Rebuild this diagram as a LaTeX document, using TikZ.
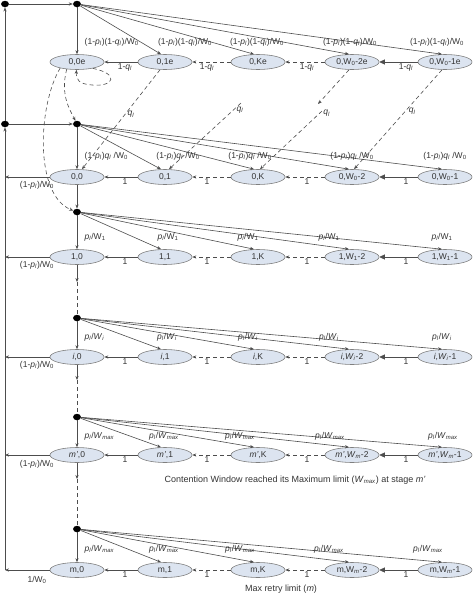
\documentclass[tikz,border=0pt]{standalone}
\usepackage{fontspec}
\setmainfont{Liberation Sans}
\usetikzlibrary{arrows.meta,shapes.geometric}
\definecolor{nfill}{HTML}{DCE4F0}
\definecolor{ndraw}{HTML}{7F7F7F}
\definecolor{lgray}{HTML}{4D4D4D}
\definecolor{tgray}{HTML}{333333}
\newcommand{\mypl}{\textit{p}\textsubscript{\textit{l}}}
\newcommand{\myql}{\textit{q}\textsubscript{\textit{l}}}
% row of five states
\newcommand{\mkrow}[7]{%
  \node[st] (#10) at (77,#2) {#3};
  \node[st] (#11) at (165,#2) {#4};
  \node[st] (#1K) at (258,#2) {#5};
  \node[st] (#12) at (352,#2) {#6};
  \node[st] (#13) at (445,#2) {#7};
}
% fan from junction dot and horizontal chain
\newcommand{\mkfan}[2]{%
  \draw[arr] (#2) -- (#10);
  \draw[arr] (#2) -- ([xshift=-4pt]#11.north);
  \draw[arr] (#2) -- ([xshift=-4pt]#1K.north);
  \draw[arr] (#2) -- ([xshift=-3pt]#12.north);
  \draw[arr] (#2) -- ([xshift=-3pt]#13.north);
  \draw[arr] (#11) -- (#10);
  \draw[arr,dsh] (#1K) -- (#11);
  \draw[arr,dsh] (#12) -- (#1K);
  \draw[bigarr] (#13) -- (#12);
}
% labels under the horizontal arrows
\newcommand{\mkhlab}[2]{%
  \node[lab] at (125,#1+5) {#2};
  \node[lab] at (207,#1+5) {#2};
  \node[lab] at (307,#1+5) {#2};
  \node[lab] at (406,#1+5) {#2};
}
% labels of the fan
\newcommand{\mkflab}[6]{%
  \node[lab,anchor=west] at (84,#1) {#2};
  \node[lab] at (#3,#1) {#2};
  \node[lab] at (#4,#1) {#2};
  \node[lab] at (#5,#1) {#2};
  \node[lab] at (#6,#1) {#2};
}
% arrow to the left return line
\newcommand{\mkleft}[4]{%
  \coordinate (#1L) at (5,#2);
  \draw[arr] (#10) -- (#1L);
  \node[lab] at (37,#3) {#4};
}
\begin{document}
\begin{tikzpicture}[x=1pt,y=-1pt,
  st/.style={ellipse,draw=ndraw,fill=nfill,line width=0.6pt,minimum width=54pt,minimum height=15pt,inner sep=0pt,font=\fontsize{8.5}{9}\selectfont,text=tgray},
  jdot/.style={ellipse,fill=black,minimum width=8pt,minimum height=6.5pt,inner sep=0pt},
  ln/.style={draw=lgray,line width=0.6pt},
  arr/.style={ln,-{Stealth[length=4pt,width=3.2pt]}},
  bigarr/.style={ln,-{Triangle[length=5.5pt,width=5pt]}},
  dsh/.style={dash pattern=on 4pt off 3pt},
  lab/.style={font=\fontsize{8.5}{9}\selectfont,text=tgray,inner sep=0.5pt},
  note/.style={font=\fontsize{9}{10}\selectfont,text=tgray,inner sep=0pt},
]
\useasboundingbox (0,0) rectangle (474,595);

% junction dots
\node[jdot] (le) at (5,4) {};
\node[jdot] (la) at (5,124) {};
\node[jdot] (je) at (77,4) {};
\node[jdot] (ja) at (77,124) {};
\node[jdot] (jb) at (77,212) {};
\node[jdot] (jc) at (77,318) {};
\node[jdot] (jd) at (77,417) {};
\node[jdot] (jf) at (77,529) {};

% states
\mkrow{e}{62}{0,0e}{0,1e}{0,Ke}{0,W\textsubscript{0}-2e}{0,W\textsubscript{0}-1e}
\mkrow{a}{177}{0,0}{0,1}{0,K}{0,W\textsubscript{0}-2}{0,W\textsubscript{0}-1}
\mkrow{b}{257}{1,0}{1,1}{1,K}{1,W\textsubscript{1}-2}{1,W\textsubscript{1}-1}
\mkrow{c}{357}{\textit{i},0}{\textit{i},1}{\textit{i},K}{\textit{i},\textit{W}\textsubscript{\textit{i}}-2}{\textit{i},\textit{W}\textsubscript{\textit{i}}-1}
\mkrow{d}{455}{\textit{m'},0}{\textit{m'},1}{\textit{m'},K}{\textit{m'},\textit{W}\textsubscript{\textit{m}}-2}{\textit{m'},\textit{W}\textsubscript{\textit{m}}-1}
\mkrow{f}{570}{m,0}{m,1}{m,K}{m,W\textsubscript{\textit{m}}-2}{m,W\textsubscript{\textit{m}}-1}

% fans and chains
\mkfan{e}{je}
\mkfan{a}{ja}
\mkfan{b}{jb}
\mkfan{c}{jc}
\mkfan{d}{jd}
\mkfan{f}{jf}

% fan labels
\mkflab{42}{(1-\mypl)(1-\myql)/W\textsubscript{0}}{185}{257}{350}{437}
\mkflab{156}{(1-\mypl)\myql{} /W\textsubscript{0}}{178}{250}{352}{445}
\mkflab{237}{\mypl/W\textsubscript{1}}{168}{248}{329}{442}
\mkflab{337}{\mypl/\textit{W}\textsubscript{\textit{i}}}{167}{248}{329}{442}
\mkflab{436}{\mypl/\textit{W}\textsubscript{\textit{max}}}{164}{240}{330}{443}
\mkflab{549}{\mypl/\textit{W}\textsubscript{\textit{max}}}{164}{240}{329}{428}

% horizontal labels
\mkhlab{62}{1-\myql}
\mkhlab{177}{1}
\mkhlab{257}{1}
\mkhlab{357}{1}
\mkhlab{455}{1}
\mkhlab{570}{1}

% left return arrows
\mkleft{a}{177}{185}{(1-\mypl)/W\textsubscript{0}}
\mkleft{b}{257}{265}{(1-\mypl)/W\textsubscript{0}}
\mkleft{c}{357}{365}{(1-\mypl)/W\textsubscript{0}}
\mkleft{d}{455}{464}{(1-\mypl)/W\textsubscript{0}}
\mkleft{f}{570}{580}{1/W\textsubscript{0}}

% left return line
\draw[arr] (fL) -- (la);
\draw[arr] (la) -- (le);
\draw[arr] (le) -- (je);
\draw[arr] (la) -- (ja);

% vertical links between stages
\draw[arr] (a0) -- (jb);
\coordinate (bv) at (77,282);
\coordinate (cv) at (77,380);
\coordinate (dv) at (77,479);
\draw[arr] (b0) -- (bv);
\draw[ln,dsh] (bv) -- (jc);
\draw[arr] (c0) -- (cv);
\draw[ln,dsh] (cv) -- (jd);
\draw[arr] (d0) -- (dv);
\draw[ln,dsh] (dv) -- (jf);

% dashed curves from 0,0e
\draw[arr,dsh] (e0.215) .. controls (60,95) and (70,110) .. (ja);
\draw[arr,dsh] (e0.200) .. controls (38,105) and (34,195) .. (jb);
\draw[arr,dsh] (e0.338) .. controls (120,74) and (114,87) .. (92,85) .. controls (79,84) and (76,80) .. (e0.266);

% q_l transitions
\draw[arr,dsh] ([xshift=-5pt]e1.south) -- ([xshift=5pt]a0.north) node[lab,pos=0.45,right=2pt] {\myql};
\coordinate (q1s) at (241,103);
\draw[arr,dsh] (q1s) -- ([xshift=4pt]a1.north) node[lab,pos=0.1,right=2pt] {\myql};
\coordinate (q2m) at (318,104);
\coordinate (q2s) at (322,111);
\draw[arr,dsh] ([xshift=-3pt]e2.south) -- (q2m);
\draw[arr,dsh] (q2s) -- ([xshift=2pt]aK.north) node[lab,pos=0.04,right=3pt] {\myql};
\draw[arr,dsh] ([xshift=-3pt]e3.south) -- ([xshift=2pt]a2.north) node[lab,pos=0.42,right=3pt] {\myql};

% notes
\node[note] (n1) at (295,480) {Contention Window reached its Maximum limit (\textit{W}\textsubscript{\textit{max}}) at stage \textit{m'}};
\node[note] (n2) at (281,589) {Max retry limit (\textit{m})};
\end{tikzpicture}
\end{document}
